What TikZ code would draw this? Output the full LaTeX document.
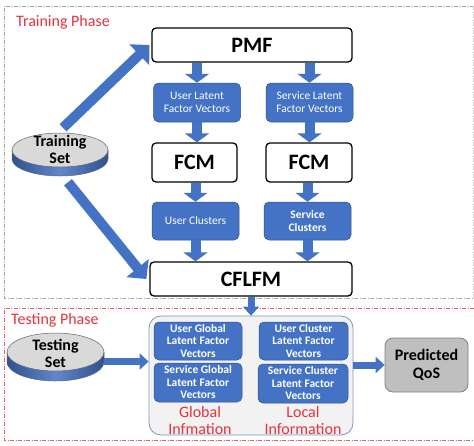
\documentclass[tikz,border=0pt]{standalone}
\usepackage{fontspec}
\setmainfont{Carlito}
\usetikzlibrary{arrows.meta,positioning,shapes.geometric}
\definecolor{cblue}{HTML}{4472C4}
\definecolor{cdblue}{HTML}{2F528F}
\definecolor{cred}{HTML}{E5323C}
\definecolor{cgray}{HTML}{7F7F7F}
\definecolor{cpale}{HTML}{F2F2F2}
\definecolor{cqos}{HTML}{BFBFBF}

\begin{document}
\begin{tikzpicture}[x=1pt,y=-1pt,
  stage/.style={rounded corners=4pt,draw=black,fill=white,line width=1.3pt,inner sep=0pt,
                font=\fontsize{22}{24}\selectfont\bfseries},
  vec/.style={rounded corners=5pt,draw=cdblue,fill=cblue,text=white,align=center,
              inner sep=0pt,line width=0.5pt,font=\fontsize{11.5}{13}\selectfont},
  gvec/.style={vec,minimum width=88pt,minimum height=38pt,
               font=\fontsize{11.5}{12.5}\selectfont\bfseries},
  dbtxt/.style={inner sep=0pt,align=center,font=\fontsize{16}{16.5}\selectfont\bfseries},
  rim/.style={left color=cdblue,right color=cdblue,middle color=cblue!85!white},
  face/.style={draw=cgray!80!black,line width=0.5pt,fill=gray!30},
  info/.style={text=cred,align=center,font=\fontsize{16}{17}\selectfont},
  phase/.style={text=cred,anchor=west,inner sep=0pt,font=\fontsize{16}{18}\selectfont},
  frame/.style={line width=0.7pt,dash pattern=on 4pt off 1.5pt on 1pt off 1.5pt},
  blk/.style={-{Triangle[width=24pt,length=9pt]},line width=10pt,cblue},
  bigblk/.style={-{Triangle[width=28pt,length=14pt]},line width=10pt,cblue},
  thin/.style={-{Triangle[width=16pt,length=9pt]},line width=7pt,cblue}]
  \useasboundingbox (0,0) rectangle (474,445);
  % phase frames
  \draw[frame,cgray!70] (474,6) -- (4,6) -- (4,298) -- (474,298);
  \draw[frame,cgray!35] (473,6) -- (473,298);
  \draw[frame,cred!80] (474,308) -- (4,308) -- (4,440) -- (474,440);
  \node[phase] (trph) at (16,22) {Training Phase};
  \node[phase] (teph) at (11,320) {Testing Phase};
  % training set drum
  \shade[rim] (12,150) -- (12,159) arc[start angle=180,end angle=360,x radius=48pt,y radius=17pt]
        -- (108,150) -- cycle;
  \draw[cgray!80!black,line width=0.5pt] (12,150) -- (12,159)
        arc[start angle=180,end angle=360,x radius=48pt,y radius=17pt] -- (108,150);
  \draw[face] (60,150) ellipse[x radius=48pt,y radius=17pt];
  \node[dbtxt,minimum width=96pt,minimum height=44pt] (train) at (60,149.5) {Training\\Set};
  % training phase
  \node[stage,minimum width=200pt,minimum height=34pt] (pmf) at (252,45) {PMF};
  \node[vec,minimum width=87pt,minimum height=39pt] (ulfv) at (197,102.5) {User Latent\\Factor Vectors};
  \node[vec,minimum width=87pt,minimum height=39pt] (slfv) at (309.5,102.5) {Service Latent\\Factor Vectors};
  \node[stage,minimum width=85pt,minimum height=39pt] (fcmu) at (194.5,162.5) {FCM};
  \node[stage,minimum width=86pt,minimum height=39pt] (fcms) at (309,162.5) {FCM};
  \node[vec,minimum width=87pt,minimum height=38pt] (uclu) at (195.5,221) {User Clusters};
  \node[vec,minimum width=87pt,minimum height=38pt,font=\fontsize{11.5}{13}\selectfont\bfseries]
       (sclu) at (307.5,221) {Service\\Clusters};
  \node[stage,minimum width=202pt,minimum height=34pt] (cflfm) at (251,279) {CFLFM};
  \draw[blk] (ulfv.north |- pmf.south) -- (ulfv.north);
  \draw[blk] (slfv.north |- pmf.south) -- (slfv.north);
  \draw[blk] (ulfv.south) -- (ulfv.south |- fcmu.north);
  \draw[blk] (slfv.south) -- (slfv.south |- fcms.north);
  \draw[blk] (uclu.north |- fcmu.south) -- (uclu.north);
  \draw[blk] (sclu.north |- fcms.south) -- (sclu.north);
  \draw[blk] (uclu.south) -- (uclu.south |- cflfm.north);
  \draw[blk] (sclu.south) -- (sclu.south |- cflfm.north);
  \draw[bigblk] ([xshift=3pt,yshift=-0.5pt]train.north) -- ([xshift=-2pt]pmf.west);
  \draw[bigblk] ([xshift=8pt,yshift=-10.5pt]train.south) -- ([xshift=-3pt]cflfm.west);
  % testing phase
  \node[rounded corners=12pt,draw=cdblue!60,fill=cpale,line width=0.8pt,
        minimum width=204pt,minimum height=119pt] (ctr) at (251,375.5) {};
  \node[gvec] (ugl) at (198,341) {User Global\\Latent Factor\\Vectors};
  \node[gvec,minimum height=39pt] (sgl) at (198,382.5) {Service Global\\Latent Factor\\Vectors};
  \node[gvec,minimum width=89pt] (ucl) at (303.5,341) {User Cluster\\Latent Factor\\Vectors};
  \node[gvec,minimum width=90pt,minimum height=39pt] (scl) at (303,383.5) {Service Cluster\\Latent Factor\\Vectors};
  \node[info] (glob) at (200,420) {Global\\Infmation};
  \node[info] (loc) at (303,420) {Local\\Information};
  % testing set drum
  \shade[rim] (7,352) -- (7,362) arc[start angle=180,end angle=360,x radius=48.5pt,y radius=19pt]
        -- (104,352) -- cycle;
  \draw[cgray!80!black,line width=0.5pt] (7,352) -- (7,362)
        arc[start angle=180,end angle=360,x radius=48.5pt,y radius=19pt] -- (104,352);
  \draw[face] (55.5,352) ellipse[x radius=48.5pt,y radius=19pt];
  \node[dbtxt,minimum width=97pt,minimum height=48pt] (test) at (55.5,353.5) {Testing\\Set};
  \node[rounded corners=8pt,draw=cgray,fill=cqos,line width=0.8pt,inner sep=0pt,align=center,
        minimum width=83pt,minimum height=54pt,font=\fontsize{16}{18}\selectfont\bfseries]
        (pqos) at (426.5,365) {Predicted\\QoS};
  \draw[thin] (cflfm.south) -- (cflfm.south |- ctr.north);
  \draw[thin] ([yshift=-8pt]test.east) -- ([yshift=-8pt]test.east -| ctr.west);
  \draw[thin] (ctr.east |- pqos.west) -- (pqos.west);
\end{tikzpicture}
\end{document}
